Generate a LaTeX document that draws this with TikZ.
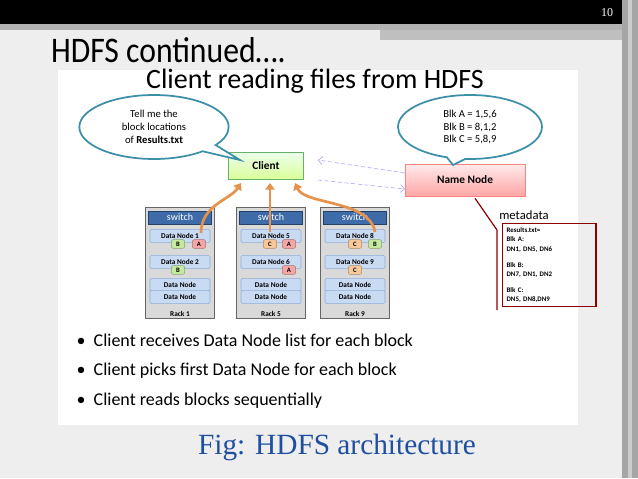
\documentclass[tikz,border=0pt]{standalone}
\usepackage{fontspec}
\setmainfont{Carlito}
\newfontfamily\serifb{Liberation Serif}
\usetikzlibrary{arrows.meta,shapes.callouts}
\definecolor{bgg}{HTML}{EEEEEE}
\definecolor{swb}{HTML}{3E6CA8}
\definecolor{dnb}{HTML}{C9DAF3}
\definecolor{dnd}{HTML}{8FAEDB}
\definecolor{rackg}{HTML}{D9D9D9}
\definecolor{tagA}{HTML}{F4A6A6}
\definecolor{tagB}{HTML}{C6E9A0}
\definecolor{tagC}{HTML}{F8C89A}
\definecolor{cyanb}{HTML}{3B8FA8}
\definecolor{orng}{HTML}{E8914A}
\definecolor{capblue}{HTML}{1F4FA0}
\tikzset{
 dn/.style={draw=dnd,fill=dnb,rounded corners=1pt,minimum width=45pt,minimum height=10pt,inner sep=0pt,font=\fontsize{5.5}{6}\selectfont\bfseries},
 tag/.style={draw=#1!70!black,fill=#1,rounded corners=1.5pt,minimum width=10pt,minimum height=6.5pt,inner sep=0pt,font=\fontsize{5}{5}\selectfont\bfseries},
 rack/.style={draw=gray!80!black,fill=rackg,minimum width=52pt,minimum height=83pt},
 sw/.style={fill=swb,draw=swb!60!black,minimum width=47pt,minimum height=10pt,inner sep=0pt,text=white,font=\fontsize{7.5}{8}\selectfont},
 bubble/.style={ellipse callout,draw=cyanb,line width=1.3pt,fill=white,align=center,font=\fontsize{8}{9.5}\selectfont},
 oarr/.style={draw=orng,line width=2pt,-{Triangle[length=5pt,width=7pt]}},
 darr/.style={draw=blue!40,densely dashed,-{Straight Barb[length=3pt]},line width=0.4pt},
 bul/.style={anchor=west,font=\fontsize{13.5}{15}\selectfont}
}
\newcommand{\mkrack}[5]{%
 \node[rack] (#2) at (#1,263) {};
 \node[sw] (#2s) at (#1,217.5) {switch};
 \node[dn] (#2a) at (#1,236) {#4};
 \node[dn] (#2b) at (#1,262) {#5};
 \node[dn] (#2c) at (#1,285) {Data Node};
 \node[dn] (#2d) at (#1,297) {Data Node};
 \node[font=\fontsize{5.5}{6}\selectfont\bfseries] (#2l) at (#1,314) {#3};
}
\begin{document}
\begin{tikzpicture}[x=0.75pt,y=-0.75pt]
\useasboundingbox (0,0) rectangle (638,478);
\fill[bgg] (0,0) rectangle (638,478);
\fill[black] (0,0) rectangle (622,24);
\fill[gray!60] (0,24) rectangle (622,30);
\fill[gray!50] (380,30) rectangle (622,40);
\fill[gray!70] (622,0) rectangle (638,478);
\fill[gray!40] (628,0) rectangle (632,478);
\node[text=white,font=\serifb\fontsize{9}{10}\selectfont] (pg) at (607,13) {10};
\node[anchor=west,font=\fontsize{27}{30}\selectfont,xscale=0.88] (ttl) at (47,50) {HDFS continued….};
\fill[white] (58,70) rectangle (578,425);
\node[font=\fontsize{21}{23}\selectfont] (sub) at (315,81) {Client reading files from HDFS};
% client and name node
\node[draw=green!50!black!60,top color=green!8,bottom color=green!35!yellow!40,minimum width=56pt,minimum height=20pt,font=\fontsize{8.5}{9}\selectfont\bfseries] (client) at (266,166) {Client};
\node[draw=red!50,top color=red!8,bottom color=red!35,minimum width=90pt,minimum height=24pt,font=\fontsize{8.5}{9}\selectfont\bfseries] (nn) at (465,180) {Name Node};
\node[bubble,minimum width=112pt,minimum height=48pt,callout absolute pointer={(240,160)}] (b1) at (154,127) {Tell me the\\block locations\\of \textbf{Results.txt}};
\node[bubble,minimum width=108pt,minimum height=48pt,callout absolute pointer={(453,165)}] (b2) at (470,127) {Blk A = 1,5,6\\Blk B = 8,1,2\\Blk C = 5,8,9};
\coordinate (d1s) at (nn.west|-0,173);
\coordinate (d1e) at (318,160);
\coordinate (d2s) at (318,180);
\coordinate (d2e) at (nn.west|-0,189);
\draw[darr] (d1s) -- (d1e);
\draw[darr] (d2s) -- (d2e);
% racks
\mkrack{180}{r1}{Rack 1}{Data Node 1}{Data Node 2}
\mkrack{271}{r5}{Rack 5}{Data Node 5}{Data Node 6}
\mkrack{355}{r9}{Rack 9}{Data Node 8}{Data Node 9}
\node[tag=tagB] (t1b) at (178,244) {B};
\node[tag=tagA] (t1a) at (199,244) {A};
\node[tag=tagB] (t2b) at (178,270) {B};
\node[tag=tagC] (t5c) at (270,244) {C};
\node[tag=tagA] (t5a) at (289,244) {A};
\node[tag=tagA] (t6a) at (289,270) {A};
\node[tag=tagC] (t8c) at (355,244) {C};
\node[tag=tagB] (t8b) at (375,244) {B};
\node[tag=tagC] (t9c) at (355,270) {C};
% orange arrows
\coordinate (o1) at (201,233);
\coordinate (o2) at (270,232);
\coordinate (o3) at (375,232);
\draw[oarr] (o1) .. controls (201,205) and (230,200) .. (241,183);
\draw[oarr] (o2) -- (270,183);
\draw[oarr] (o3) .. controls (370,200) and (305,205) .. (295,183);
% metadata
\node[font=\fontsize{9.5}{10}\selectfont] (mdl) at (524,215) {metadata};
\node[draw=red!55!black,line width=0.9pt,anchor=north west,align=left,inner sep=3pt,text width=64pt,font=\fontsize{5.2}{7}\selectfont\bfseries] (md) at (502,223) {Results.txt=\\Blk A:\\DN1, DN5, DN6\\[5pt]Blk B:\\DN7, DN1, DN2\\[5pt]Blk C:\\DN5, DN8,DN9};
\coordinate (mdt) at (497,230);
\coordinate (mdb) at (497,310);
\draw[red!55!black,line width=0.9pt] (nn.south) ++(10,2) -- (mdt) -- (mdb);
% bullets
\node[bul] (l1) at (72,340) {•\hspace{6pt}Client receives Data Node list for each block};
\node[bul] (l2) at (72,371) {•\hspace{6pt}Client picks first Data Node for each block};
\node[bul] (l3) at (72,401) {•\hspace{6pt}Client reads blocks sequentially};
\node[text=capblue,font=\serifb\fontsize{22}{24}\selectfont] (cap) at (337,447) {Fig: HDFS architecture};
\end{tikzpicture}
\end{document}
